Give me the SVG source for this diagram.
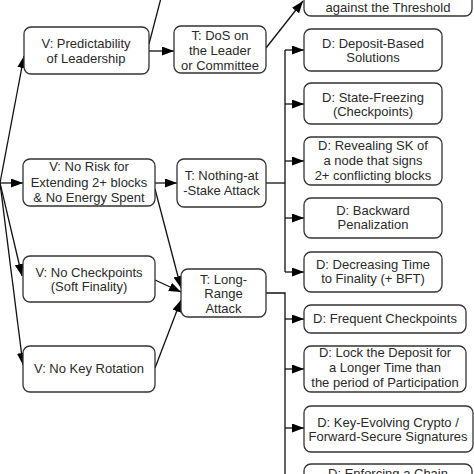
<svg xmlns="http://www.w3.org/2000/svg" width="474" height="474" viewBox="0 0 474 474">
<defs>
<marker id="ah" markerWidth="13" markerHeight="10" refX="12" refY="4.5" orient="auto" markerUnits="userSpaceOnUse">
<path d="M0,0 L12,4.5 L0,9 z" fill="#000"/>
</marker>
<style>
.box{fill:#fff;stroke:#333;stroke-width:1.3}
text{font-family:"Liberation Sans",Arial,sans-serif;font-size:13px;fill:#2a2a2a;text-anchor:middle}
.c{fill:none;stroke:#111;stroke-width:1.3}
.a{fill:none;stroke:#111;stroke-width:1.3;marker-end:url(#ah)}
</style>
</defs>
<rect width="474" height="474" fill="#fff"/>
<g id="connectors">
<line class="a" x1="0" y1="183" x2="24" y2="56"/>
<line class="a" x1="0" y1="183" x2="23" y2="183"/>
<line class="a" x1="0" y1="183" x2="22" y2="276"/>
<line class="a" x1="0" y1="183" x2="23" y2="365"/>
<line class="c" x1="149" y1="44" x2="161" y2="-2"/>
<line class="a" x1="149" y1="51" x2="174" y2="51"/>
<line class="a" x1="266" y1="48" x2="303" y2="1"/>
<line class="a" x1="155" y1="183" x2="177" y2="183"/>
<line class="a" x1="155" y1="189" x2="181" y2="288"/>
<line class="a" x1="155" y1="280" x2="181" y2="292"/>
<line class="a" x1="155" y1="368" x2="181" y2="300"/>
<polyline class="c" points="266,183 285,183"/>
<line class="c" x1="285" y1="50" x2="285" y2="272"/>
<line class="a" x1="285" y1="50" x2="304" y2="50"/>
<line class="a" x1="285" y1="104" x2="304" y2="104"/>
<line class="a" x1="285" y1="161" x2="304" y2="161"/>
<line class="a" x1="285" y1="218" x2="304" y2="218"/>
<line class="a" x1="285" y1="272" x2="304" y2="272"/>
<polyline class="c" points="266,293 285,293 285,476"/>
<line class="a" x1="285" y1="319" x2="304" y2="319"/>
<line class="a" x1="285" y1="369" x2="304" y2="369"/>
<line class="a" x1="285" y1="428" x2="304" y2="428"/>
</g>
<g id="d-threshold"><rect class="box" x="304" y="-40" width="168" height="56" rx="7"/><text x="388" y="12">against the Threshold</text></g>
<g id="v-predictability"><rect class="box" x="24" y="27" width="125" height="47" rx="7"/><text x="86" y="48">V: Predictability</text><text x="86" y="63">of Leadership</text></g>
<g id="t-dos"><rect class="box" x="174" y="26" width="92" height="47" rx="7"/><text x="220" y="40">T: DoS on</text><text x="220" y="55">the Leader</text><text x="220" y="70">or Committee</text></g>
<g id="v-norisk"><rect class="box" x="23" y="159" width="132" height="47" rx="7"/><text x="89" y="171">V: No Risk for</text><text x="89" y="187">Extending 2+ blocks</text><text x="89" y="202">&amp; No Energy Spent</text></g>
<g id="t-nas"><rect class="box" x="177" y="159" width="89" height="48" rx="7"/><text x="221.5" y="180">T: Nothing-at</text><text x="221.5" y="195">-Stake Attack</text></g>
<g id="v-nocheckpoints"><rect class="box" x="23" y="256" width="132" height="46" rx="7"/><text x="89" y="277">V: No Checkpoints</text><text x="89" y="291">(Soft Finality)</text></g>
<g id="v-nokeyrotation"><rect class="box" x="23" y="346" width="132" height="46" rx="7"/><text x="89" y="373">V: No Key Rotation</text></g>
<g id="t-longrange"><rect class="box" x="181" y="269" width="85" height="48" rx="7"/><text x="223.5" y="284">T: Long-</text><text x="223.5" y="298">Range</text><text x="223.5" y="313">Attack</text></g>
<g id="d-deposit"><rect class="box" x="304" y="29" width="138" height="42" rx="7"/><text x="373" y="48">D: Deposit-Based</text><text x="373" y="62">Solutions</text></g>
<g id="d-statefreezing"><rect class="box" x="304" y="83" width="138" height="41" rx="7"/><text x="373" y="102">D: State-Freezing</text><text x="373" y="116">(Checkpoints)</text></g>
<g id="d-revealing"><rect class="box" x="304" y="137" width="138" height="48" rx="7"/><text x="373" y="150">D: Revealing SK of</text><text x="373" y="165">a node that signs</text><text x="373" y="180">2+ conflicting blocks</text></g>
<g id="d-backward"><rect class="box" x="304" y="198" width="138" height="40" rx="7"/><text x="373" y="215">D: Backward</text><text x="373" y="229">Penalization</text></g>
<g id="d-decreasing"><rect class="box" x="304" y="252" width="138" height="40" rx="7"/><text x="373" y="269">D: Decreasing Time</text><text x="373" y="283">to Finality (+ BFT)</text></g>
<g id="d-frequent"><rect class="box" x="304" y="305" width="162" height="28" rx="7"/><text x="385" y="323">D: Frequent Checkpoints</text></g>
<g id="d-lock"><rect class="box" x="304" y="346" width="162" height="46" rx="7"/><text x="385" y="357">D: Lock the Deposit for</text><text x="385" y="372">a Longer Time than</text><text x="385" y="387">the period of Participation</text></g>
<g id="d-keyevolving"><rect class="box" x="304" y="406" width="169" height="46" rx="7"/><text x="388" y="427">D: Key-Evolving Crypto /</text><text x="388" y="441">Forward-Secure Signatures</text></g>
<g id="d-enforcing"><rect class="box" x="304" y="464" width="168" height="46" rx="7"/><text x="388" y="478">D: Enforcing a Chain</text></g>
</svg>
